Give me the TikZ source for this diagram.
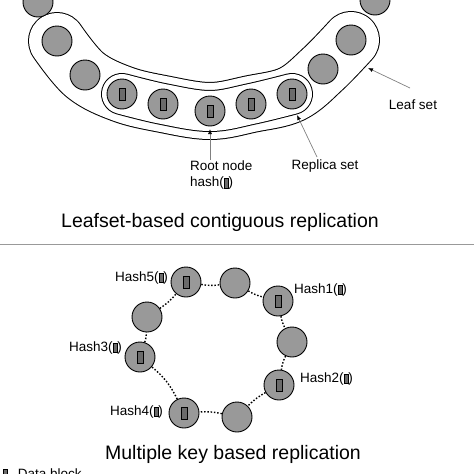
\documentclass[tikz,border=0pt]{standalone}
\usepackage{fontspec}
\setmainfont{Liberation Sans}
\usetikzlibrary{arrows.meta}
\definecolor{nodegray}{gray}{0.6}
\definecolor{blockgray}{gray}{0.42}
\definecolor{arrowgray}{gray}{0.5}
\definecolor{sepgray}{gray}{0.6}
\newcommand{\dblk}{\raisebox{-1pt}{\setlength{\fboxsep}{0pt}\setlength{\fboxrule}{0.6pt}\fcolorbox{black}{blockgray}{\rule{0pt}{9pt}\hspace{3.5pt}}}}
\begin{document}
\begin{tikzpicture}[x=1pt,y=-1pt,
  peer/.style={circle, draw=black, line width=0.9pt, fill=nodegray, minimum size=30pt, inner sep=0pt},
  blk/.style={draw=black, line width=0.6pt, fill=blockgray, minimum width=6pt, minimum height=12pt, inner sep=0pt},
  lbl/.style={font=\fontsize{13.5}{16}\selectfont, inner sep=0pt},
  ttl/.style={font=\fontsize{19.5}{22}\selectfont, inner sep=0pt},
  ptr/.style={draw=arrowgray, line width=0.7pt, -{Latex[length=5pt,width=4pt,color=black]}},
  ring/.style={line width=1.4pt, dash pattern=on 1.5pt off 1.8pt},
  bandout/.style={line cap=round, line join=round}
]
\useasboundingbox (0,0) rectangle (474,474);
\clip (0,0) rectangle (474,474);
% leaf set band
\draw[bandout, black, line width=58pt] plot[smooth, tension=0.6] coordinates {(57,41) (85,75) (122,94) (163,104) (210,111) (251,104) (292,94) (323,69) (351,40)};
\draw[bandout, white, line width=56pt] plot[smooth, tension=0.6] coordinates {(57,41) (85,75) (122,94) (163,104) (210,111) (251,104) (292,94) (323,69) (351,40)};
% replica set band
\draw[bandout, black, line width=42pt] plot[smooth, tension=0.6] coordinates {(122,94) (163,104) (210,111) (251,104) (292,94)};
\draw[bandout, white, line width=40pt] plot[smooth, tension=0.6] coordinates {(122,94) (163,104) (210,111) (251,104) (292,94)};
% top nodes
\node[peer] (t0) at (38,2) {};
\node[peer] (t10) at (375,0) {};
\node[peer] (t1) at (57,41) {};
\node[peer] (t2) at (85,75) {};
\node[peer] (t3) at (122,94) {};
\node[peer] (t4) at (163,104) {};
\node[peer] (t5) at (210,111) {};
\node[peer] (t6) at (251,104) {};
\node[peer] (t7) at (292,94) {};
\node[peer] (t8) at (323,69) {};
\node[peer] (t9) at (351,40) {};
\foreach \n in {t3,t4,t5,t6,t7} \node[blk] at (\n) {};
% labels and pointers
\node[lbl] (leaflbl) at (413,105) {Leaf set};
\coordinate (leaftail) at (410,88);
\coordinate (leaftip) at (368,68);
\draw[ptr] (leaftail) -- (leaftip);
\node[lbl] (replbl) at (325,166) {Replica set};
\coordinate (reptail) at (317,157);
\coordinate (reptip) at (297,115);
\draw[ptr] (reptail) -- (reptip);
\node[lbl, anchor=north west, align=left] (rootlbl) at (190,161) {Root node\\hash(\dblk)};
\coordinate (roottail) at (210,160);
\coordinate (roottip) at (210,129);
\draw[ptr] (roottail) -- (roottip);
\node[ttl] (title1) at (220,222) {Leafset-based contiguous replication};
% separator
\coordinate (sepL) at (0,244);
\coordinate (sepR) at (474,244);
\draw[sepgray, line width=1pt] (sepL) -- (sepR);
% ring
\node[peer] (h5) at (186,282) {};
\node[peer] (e1) at (235,283) {};
\node[peer] (h1) at (278,301) {};
\node[peer] (e2) at (292,342) {};
\node[peer] (h2) at (279,385) {};
\node[peer] (e3) at (237,417) {};
\node[peer] (h4) at (184,413) {};
\node[peer] (h3) at (140,357) {};
\node[peer] (e4) at (147,317) {};
\foreach \n in {h1,h2,h3,h4,h5} \node[blk] at (\n) {};
\draw[ring] (h5) to[bend right=8] (e1);
\draw[ring] (e1) to[bend right=8] (h1);
\draw[ring] (h1) to[bend right=8] (e2);
\draw[ring] (e2) to[bend right=8] (h2);
\draw[ring] (h2) to[bend right=8] (e3);
\draw[ring] (e3) to[bend right=8] (h4);
\draw[ring] (h4) to[bend right=12] (h3);
\draw[ring] (h3) to[bend right=8] (e4);
\draw[ring] (e4) to[bend right=8] (h5);
\node[lbl, anchor=east] (l5) at (168,278) {Hash5(\dblk)};
\node[lbl, anchor=west] (l1) at (294,290) {Hash1(\dblk)};
\node[lbl, anchor=west] (l2) at (300,379) {Hash2(\dblk)};
\node[lbl, anchor=east] (l3) at (122,348) {Hash3(\dblk)};
\node[lbl, anchor=east] (l4) at (163,412) {Hash4(\dblk)};
\node[ttl] (title2) at (233,454) {Multiple key based replication};
% legend
\node[lbl, anchor=base west] (legend) at (3,478) {\dblk\hspace{10pt}Data block};
\end{tikzpicture}
\end{document}
